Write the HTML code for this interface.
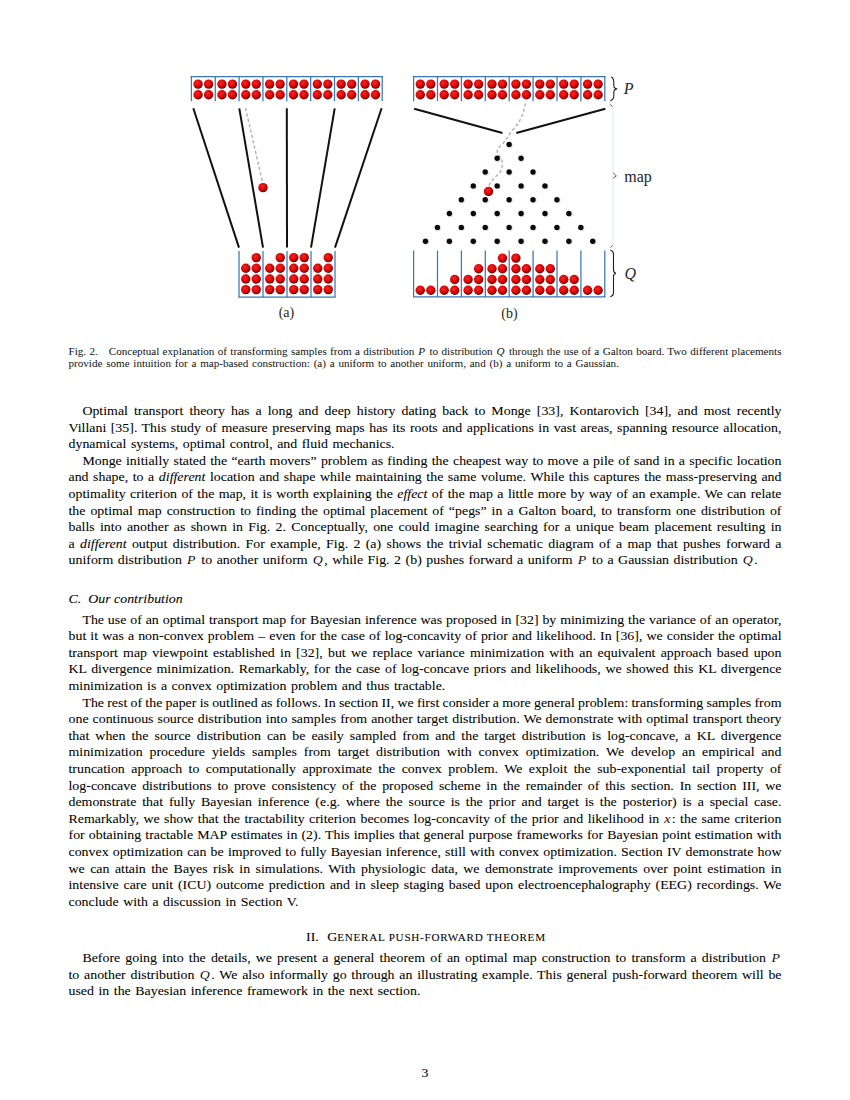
<!DOCTYPE html>
<html><head><meta charset="utf-8"><style>
html,body{margin:0;padding:0;background:#fff;}
body{width:850px;height:1100px;position:relative;overflow:hidden;font-family:"Liberation Serif",serif;color:#000;-webkit-text-stroke:0.08px #222;}
.l{position:absolute;white-space:nowrap;}
.b{font-size:13.9px;line-height:16.6px;transform:scaleY(0.94);transform-origin:0 12px;}
.c{font-size:11.1px;line-height:12.3px;-webkit-text-stroke:0;color:#111;}
.fig{position:absolute;left:0;top:0;}
.m{margin:0 1.4px 0 0.6px;-webkit-text-stroke:0;color:#111;}
.c .m{margin:0 1.1px 0 0.5px;}
</style></head><body>

<svg class="fig" width="850" height="340" viewBox="0 0 850 340">
<defs>
<radialGradient id="bg" cx="0.42" cy="0.38" r="0.62">
<stop offset="0" stop-color="#f42626"/>
<stop offset="0.5" stop-color="#e00b0b"/>
<stop offset="0.74" stop-color="#c00303"/>
<stop offset="0.9" stop-color="#820000"/>
<stop offset="1" stop-color="#440000"/>
</radialGradient>
</defs>
<g stroke="#3a76b8" stroke-width="1.25" fill="none"><line x1="191.40" y1="76.50" x2="191.40" y2="101.20"/><line x1="215.25" y1="76.50" x2="215.25" y2="101.20"/><line x1="239.10" y1="76.50" x2="239.10" y2="101.20"/><line x1="262.95" y1="76.50" x2="262.95" y2="101.20"/><line x1="286.80" y1="76.50" x2="286.80" y2="101.20"/><line x1="310.65" y1="76.50" x2="310.65" y2="101.20"/><line x1="334.50" y1="76.50" x2="334.50" y2="101.20"/><line x1="358.35" y1="76.50" x2="358.35" y2="101.20"/><line x1="382.20" y1="76.50" x2="382.20" y2="101.20"/><line x1="190.70" y1="76.50" x2="382.90" y2="76.50"/></g>
<circle cx="198.08" cy="84.10" r="4.70" fill="url(#bg)"/><circle cx="208.58" cy="84.10" r="4.70" fill="url(#bg)"/><circle cx="198.08" cy="94.80" r="4.70" fill="url(#bg)"/><circle cx="208.58" cy="94.80" r="4.70" fill="url(#bg)"/><circle cx="221.93" cy="84.10" r="4.70" fill="url(#bg)"/><circle cx="232.43" cy="84.10" r="4.70" fill="url(#bg)"/><circle cx="221.93" cy="94.80" r="4.70" fill="url(#bg)"/><circle cx="232.43" cy="94.80" r="4.70" fill="url(#bg)"/><circle cx="245.78" cy="84.10" r="4.70" fill="url(#bg)"/><circle cx="256.28" cy="84.10" r="4.70" fill="url(#bg)"/><circle cx="245.78" cy="94.80" r="4.70" fill="url(#bg)"/><circle cx="256.28" cy="94.80" r="4.70" fill="url(#bg)"/><circle cx="269.63" cy="84.10" r="4.70" fill="url(#bg)"/><circle cx="280.13" cy="84.10" r="4.70" fill="url(#bg)"/><circle cx="269.63" cy="94.80" r="4.70" fill="url(#bg)"/><circle cx="280.13" cy="94.80" r="4.70" fill="url(#bg)"/><circle cx="293.48" cy="84.10" r="4.70" fill="url(#bg)"/><circle cx="303.98" cy="84.10" r="4.70" fill="url(#bg)"/><circle cx="293.48" cy="94.80" r="4.70" fill="url(#bg)"/><circle cx="303.98" cy="94.80" r="4.70" fill="url(#bg)"/><circle cx="317.32" cy="84.10" r="4.70" fill="url(#bg)"/><circle cx="327.82" cy="84.10" r="4.70" fill="url(#bg)"/><circle cx="317.32" cy="94.80" r="4.70" fill="url(#bg)"/><circle cx="327.82" cy="94.80" r="4.70" fill="url(#bg)"/><circle cx="341.18" cy="84.10" r="4.70" fill="url(#bg)"/><circle cx="351.68" cy="84.10" r="4.70" fill="url(#bg)"/><circle cx="341.18" cy="94.80" r="4.70" fill="url(#bg)"/><circle cx="351.68" cy="94.80" r="4.70" fill="url(#bg)"/><circle cx="365.03" cy="84.10" r="4.70" fill="url(#bg)"/><circle cx="375.53" cy="84.10" r="4.70" fill="url(#bg)"/><circle cx="365.03" cy="94.80" r="4.70" fill="url(#bg)"/><circle cx="375.53" cy="94.80" r="4.70" fill="url(#bg)"/>
<g stroke="#111" stroke-width="2" stroke-linecap="butt">
<line x1="193.30" y1="108.3" x2="239.00" y2="247.6"/>
<line x1="239.30" y1="108.3" x2="263.00" y2="247.6"/>
<line x1="286.80" y1="108.3" x2="287.00" y2="247.6"/>
<line x1="334.70" y1="108.3" x2="311.00" y2="247.6"/>
<line x1="381.60" y1="108.3" x2="335.00" y2="247.6"/>
</g>
<line x1="245.5" y1="108" x2="262.5" y2="182" stroke="#b0b0b0" stroke-width="1.4" stroke-dasharray="3.2 2.3"/>
<circle cx="263.00" cy="187.60" r="4.70" fill="url(#bg)"/>
<g stroke="#3a76b8" stroke-width="1.25" fill="none"><line x1="239.00" y1="251.00" x2="239.00" y2="297.00"/><line x1="263.00" y1="251.00" x2="263.00" y2="297.00"/><line x1="287.00" y1="251.00" x2="287.00" y2="297.00"/><line x1="311.00" y1="251.00" x2="311.00" y2="297.00"/><line x1="335.00" y1="251.00" x2="335.00" y2="297.00"/><line x1="238.30" y1="297.00" x2="335.70" y2="297.00"/></g>
<circle cx="245.75" cy="289.60" r="4.70" fill="url(#bg)"/><circle cx="245.75" cy="279.00" r="4.70" fill="url(#bg)"/><circle cx="245.75" cy="268.30" r="4.70" fill="url(#bg)"/><circle cx="256.25" cy="289.60" r="4.70" fill="url(#bg)"/><circle cx="256.25" cy="279.00" r="4.70" fill="url(#bg)"/><circle cx="256.25" cy="268.30" r="4.70" fill="url(#bg)"/><circle cx="256.25" cy="257.60" r="4.70" fill="url(#bg)"/><circle cx="269.75" cy="289.60" r="4.70" fill="url(#bg)"/><circle cx="269.75" cy="279.00" r="4.70" fill="url(#bg)"/><circle cx="269.75" cy="268.30" r="4.70" fill="url(#bg)"/><circle cx="280.25" cy="289.60" r="4.70" fill="url(#bg)"/><circle cx="280.25" cy="279.00" r="4.70" fill="url(#bg)"/><circle cx="280.25" cy="268.30" r="4.70" fill="url(#bg)"/><circle cx="280.25" cy="257.60" r="4.70" fill="url(#bg)"/><circle cx="293.75" cy="289.60" r="4.70" fill="url(#bg)"/><circle cx="293.75" cy="279.00" r="4.70" fill="url(#bg)"/><circle cx="293.75" cy="268.30" r="4.70" fill="url(#bg)"/><circle cx="293.75" cy="257.60" r="4.70" fill="url(#bg)"/><circle cx="304.25" cy="289.60" r="4.70" fill="url(#bg)"/><circle cx="304.25" cy="279.00" r="4.70" fill="url(#bg)"/><circle cx="304.25" cy="268.30" r="4.70" fill="url(#bg)"/><circle cx="304.25" cy="257.60" r="4.70" fill="url(#bg)"/><circle cx="317.75" cy="289.60" r="4.70" fill="url(#bg)"/><circle cx="317.75" cy="279.00" r="4.70" fill="url(#bg)"/><circle cx="317.75" cy="268.30" r="4.70" fill="url(#bg)"/><circle cx="328.25" cy="289.60" r="4.70" fill="url(#bg)"/><circle cx="328.25" cy="279.00" r="4.70" fill="url(#bg)"/><circle cx="328.25" cy="268.30" r="4.70" fill="url(#bg)"/><circle cx="328.25" cy="257.60" r="4.70" fill="url(#bg)"/>
<g stroke="#3a76b8" stroke-width="1.25" fill="none"><line x1="413.60" y1="76.50" x2="413.60" y2="101.20"/><line x1="437.50" y1="76.50" x2="437.50" y2="101.20"/><line x1="461.40" y1="76.50" x2="461.40" y2="101.20"/><line x1="485.30" y1="76.50" x2="485.30" y2="101.20"/><line x1="509.20" y1="76.50" x2="509.20" y2="101.20"/><line x1="533.10" y1="76.50" x2="533.10" y2="101.20"/><line x1="557.00" y1="76.50" x2="557.00" y2="101.20"/><line x1="580.90" y1="76.50" x2="580.90" y2="101.20"/><line x1="604.80" y1="76.50" x2="604.80" y2="101.20"/><line x1="412.90" y1="76.50" x2="605.50" y2="76.50"/></g>
<circle cx="420.30" cy="84.10" r="4.70" fill="url(#bg)"/><circle cx="430.80" cy="84.10" r="4.70" fill="url(#bg)"/><circle cx="420.30" cy="94.80" r="4.70" fill="url(#bg)"/><circle cx="430.80" cy="94.80" r="4.70" fill="url(#bg)"/><circle cx="444.20" cy="84.10" r="4.70" fill="url(#bg)"/><circle cx="454.70" cy="84.10" r="4.70" fill="url(#bg)"/><circle cx="444.20" cy="94.80" r="4.70" fill="url(#bg)"/><circle cx="454.70" cy="94.80" r="4.70" fill="url(#bg)"/><circle cx="468.10" cy="84.10" r="4.70" fill="url(#bg)"/><circle cx="478.60" cy="84.10" r="4.70" fill="url(#bg)"/><circle cx="468.10" cy="94.80" r="4.70" fill="url(#bg)"/><circle cx="478.60" cy="94.80" r="4.70" fill="url(#bg)"/><circle cx="492.00" cy="84.10" r="4.70" fill="url(#bg)"/><circle cx="502.50" cy="84.10" r="4.70" fill="url(#bg)"/><circle cx="492.00" cy="94.80" r="4.70" fill="url(#bg)"/><circle cx="502.50" cy="94.80" r="4.70" fill="url(#bg)"/><circle cx="515.90" cy="84.10" r="4.70" fill="url(#bg)"/><circle cx="526.40" cy="84.10" r="4.70" fill="url(#bg)"/><circle cx="515.90" cy="94.80" r="4.70" fill="url(#bg)"/><circle cx="526.40" cy="94.80" r="4.70" fill="url(#bg)"/><circle cx="539.80" cy="84.10" r="4.70" fill="url(#bg)"/><circle cx="550.30" cy="84.10" r="4.70" fill="url(#bg)"/><circle cx="539.80" cy="94.80" r="4.70" fill="url(#bg)"/><circle cx="550.30" cy="94.80" r="4.70" fill="url(#bg)"/><circle cx="563.70" cy="84.10" r="4.70" fill="url(#bg)"/><circle cx="574.20" cy="84.10" r="4.70" fill="url(#bg)"/><circle cx="563.70" cy="94.80" r="4.70" fill="url(#bg)"/><circle cx="574.20" cy="94.80" r="4.70" fill="url(#bg)"/><circle cx="587.60" cy="84.10" r="4.70" fill="url(#bg)"/><circle cx="598.10" cy="84.10" r="4.70" fill="url(#bg)"/><circle cx="587.60" cy="94.80" r="4.70" fill="url(#bg)"/><circle cx="598.10" cy="94.80" r="4.70" fill="url(#bg)"/>
<g stroke="#111" stroke-width="2"><line x1="414.2" y1="108.7" x2="502.5" y2="133"/><line x1="516.3" y1="133" x2="605.4" y2="108.7"/></g>
<path d="M525.4,103.3 C524,112 521,121 514,128.5 C509,134 507,139 502,144.5 C498,148 495.5,151 498.5,155 C503,159 503.5,165 500.5,171.5 C497,176 491,180 489,185.5" fill="none" stroke="#b0b0b0" stroke-width="1.4" stroke-dasharray="3.2 2.3"/>
<g fill="#c8c8c8" opacity="0.6"><circle cx="509.90" cy="145.20" r="2.9"/><circle cx="497.95" cy="159.03" r="2.9"/><circle cx="521.85" cy="159.03" r="2.9"/><circle cx="486.00" cy="172.86" r="2.9"/><circle cx="509.90" cy="172.86" r="2.9"/><circle cx="533.80" cy="172.86" r="2.9"/><circle cx="474.05" cy="186.69" r="2.9"/><circle cx="497.95" cy="186.69" r="2.9"/><circle cx="521.85" cy="186.69" r="2.9"/><circle cx="545.75" cy="186.69" r="2.9"/><circle cx="462.10" cy="200.52" r="2.9"/><circle cx="486.00" cy="200.52" r="2.9"/><circle cx="509.90" cy="200.52" r="2.9"/><circle cx="533.80" cy="200.52" r="2.9"/><circle cx="557.70" cy="200.52" r="2.9"/><circle cx="450.15" cy="214.35" r="2.9"/><circle cx="474.05" cy="214.35" r="2.9"/><circle cx="497.95" cy="214.35" r="2.9"/><circle cx="521.85" cy="214.35" r="2.9"/><circle cx="545.75" cy="214.35" r="2.9"/><circle cx="569.65" cy="214.35" r="2.9"/><circle cx="438.20" cy="228.18" r="2.9"/><circle cx="462.10" cy="228.18" r="2.9"/><circle cx="486.00" cy="228.18" r="2.9"/><circle cx="509.90" cy="228.18" r="2.9"/><circle cx="533.80" cy="228.18" r="2.9"/><circle cx="557.70" cy="228.18" r="2.9"/><circle cx="581.60" cy="228.18" r="2.9"/><circle cx="426.25" cy="242.01" r="2.9"/><circle cx="450.15" cy="242.01" r="2.9"/><circle cx="474.05" cy="242.01" r="2.9"/><circle cx="497.95" cy="242.01" r="2.9"/><circle cx="521.85" cy="242.01" r="2.9"/><circle cx="545.75" cy="242.01" r="2.9"/><circle cx="569.65" cy="242.01" r="2.9"/><circle cx="593.55" cy="242.01" r="2.9"/></g>
<g fill="#0a0a0a"><circle cx="509.10" cy="144.40" r="2.7"/><circle cx="497.15" cy="158.23" r="2.7"/><circle cx="521.05" cy="158.23" r="2.7"/><circle cx="485.20" cy="172.06" r="2.7"/><circle cx="509.10" cy="172.06" r="2.7"/><circle cx="533.00" cy="172.06" r="2.7"/><circle cx="473.25" cy="185.89" r="2.7"/><circle cx="497.15" cy="185.89" r="2.7"/><circle cx="521.05" cy="185.89" r="2.7"/><circle cx="544.95" cy="185.89" r="2.7"/><circle cx="461.30" cy="199.72" r="2.7"/><circle cx="485.20" cy="199.72" r="2.7"/><circle cx="509.10" cy="199.72" r="2.7"/><circle cx="533.00" cy="199.72" r="2.7"/><circle cx="556.90" cy="199.72" r="2.7"/><circle cx="449.35" cy="213.55" r="2.7"/><circle cx="473.25" cy="213.55" r="2.7"/><circle cx="497.15" cy="213.55" r="2.7"/><circle cx="521.05" cy="213.55" r="2.7"/><circle cx="544.95" cy="213.55" r="2.7"/><circle cx="568.85" cy="213.55" r="2.7"/><circle cx="437.40" cy="227.38" r="2.7"/><circle cx="461.30" cy="227.38" r="2.7"/><circle cx="485.20" cy="227.38" r="2.7"/><circle cx="509.10" cy="227.38" r="2.7"/><circle cx="533.00" cy="227.38" r="2.7"/><circle cx="556.90" cy="227.38" r="2.7"/><circle cx="580.80" cy="227.38" r="2.7"/><circle cx="425.45" cy="241.21" r="2.7"/><circle cx="449.35" cy="241.21" r="2.7"/><circle cx="473.25" cy="241.21" r="2.7"/><circle cx="497.15" cy="241.21" r="2.7"/><circle cx="521.05" cy="241.21" r="2.7"/><circle cx="544.95" cy="241.21" r="2.7"/><circle cx="568.85" cy="241.21" r="2.7"/><circle cx="592.75" cy="241.21" r="2.7"/></g>
<circle cx="488.50" cy="191.40" r="4.70" fill="url(#bg)"/>
<g stroke="#3a76b8" stroke-width="1.25" fill="none"><line x1="413.60" y1="250.50" x2="413.60" y2="296.90"/><line x1="437.50" y1="250.50" x2="437.50" y2="296.90"/><line x1="461.40" y1="250.50" x2="461.40" y2="296.90"/><line x1="485.30" y1="250.50" x2="485.30" y2="296.90"/><line x1="509.20" y1="250.50" x2="509.20" y2="296.90"/><line x1="533.10" y1="250.50" x2="533.10" y2="296.90"/><line x1="557.00" y1="250.50" x2="557.00" y2="296.90"/><line x1="580.90" y1="250.50" x2="580.90" y2="296.90"/><line x1="604.80" y1="250.50" x2="604.80" y2="296.90"/><line x1="412.90" y1="296.90" x2="605.50" y2="296.90"/></g>
<circle cx="420.30" cy="290.20" r="4.70" fill="url(#bg)"/><circle cx="430.80" cy="290.20" r="4.70" fill="url(#bg)"/><circle cx="444.20" cy="290.20" r="4.70" fill="url(#bg)"/><circle cx="454.70" cy="290.20" r="4.70" fill="url(#bg)"/><circle cx="454.70" cy="279.50" r="4.70" fill="url(#bg)"/><circle cx="468.10" cy="290.20" r="4.70" fill="url(#bg)"/><circle cx="468.10" cy="279.50" r="4.70" fill="url(#bg)"/><circle cx="478.60" cy="290.20" r="4.70" fill="url(#bg)"/><circle cx="478.60" cy="279.50" r="4.70" fill="url(#bg)"/><circle cx="478.60" cy="268.70" r="4.70" fill="url(#bg)"/><circle cx="492.00" cy="290.20" r="4.70" fill="url(#bg)"/><circle cx="492.00" cy="279.50" r="4.70" fill="url(#bg)"/><circle cx="492.00" cy="268.70" r="4.70" fill="url(#bg)"/><circle cx="502.50" cy="290.20" r="4.70" fill="url(#bg)"/><circle cx="502.50" cy="279.50" r="4.70" fill="url(#bg)"/><circle cx="502.50" cy="268.70" r="4.70" fill="url(#bg)"/><circle cx="502.50" cy="258.10" r="4.70" fill="url(#bg)"/><circle cx="515.90" cy="290.20" r="4.70" fill="url(#bg)"/><circle cx="515.90" cy="279.50" r="4.70" fill="url(#bg)"/><circle cx="515.90" cy="268.70" r="4.70" fill="url(#bg)"/><circle cx="515.90" cy="258.10" r="4.70" fill="url(#bg)"/><circle cx="526.40" cy="290.20" r="4.70" fill="url(#bg)"/><circle cx="526.40" cy="279.50" r="4.70" fill="url(#bg)"/><circle cx="526.40" cy="268.70" r="4.70" fill="url(#bg)"/><circle cx="539.80" cy="290.20" r="4.70" fill="url(#bg)"/><circle cx="539.80" cy="279.50" r="4.70" fill="url(#bg)"/><circle cx="539.80" cy="268.70" r="4.70" fill="url(#bg)"/><circle cx="550.30" cy="290.20" r="4.70" fill="url(#bg)"/><circle cx="550.30" cy="279.50" r="4.70" fill="url(#bg)"/><circle cx="550.30" cy="268.70" r="4.70" fill="url(#bg)"/><circle cx="563.70" cy="290.20" r="4.70" fill="url(#bg)"/><circle cx="563.70" cy="279.50" r="4.70" fill="url(#bg)"/><circle cx="574.20" cy="290.20" r="4.70" fill="url(#bg)"/><circle cx="574.20" cy="279.50" r="4.70" fill="url(#bg)"/><circle cx="587.60" cy="290.20" r="4.70" fill="url(#bg)"/><circle cx="598.10" cy="290.20" r="4.70" fill="url(#bg)"/>
<g fill="none" stroke="#222" stroke-width="1.1">
<path d="M611.2,77.1 C613.5,78 613.8,80 613.8,82.5 L613.8,85.5 C613.8,87.5 615,88.6 617.1,88.9 C615,89.2 613.8,90.3 613.8,92.3 L613.8,96 C613.8,98.5 613.2,99.8 610.3,100.6"/>
<path d="M610.3,250 C612.8,250.8 613.5,251.8 613.5,254 L613.5,270 C613.5,272 614.5,273 616,273.2 C614.5,273.4 613.5,274.4 613.5,276.4 L613.5,293 C613.5,295 612.8,296 610.3,296.8"/>
</g>
<line x1="612.9" y1="106.5" x2="612.9" y2="245.5" stroke="#dfe7e7" stroke-width="1"/>
<g fill="none" stroke="#444" stroke-width="0.9"><path d="M609.8,104.2 L612.6,106.6"/><path d="M613.3,173 L616.3,175.8 L613.3,178.2"/><path d="M610.3,247.6 L612.6,245.3"/></g>
<g font-family="Liberation Serif" fill="#262626" style="-webkit-text-stroke:0">
<text x="623.8" y="94.4" font-size="16" font-style="italic">P</text>
<text x="624.3" y="182" font-size="16">map</text>
<text x="624.6" y="278.8" font-size="16" font-style="italic">Q</text>
<text x="286.4" y="317.3" font-size="14" text-anchor="middle" style="-webkit-text-stroke:0.45px #111">(a)</text>
<text x="509.5" y="317.6" font-size="14" text-anchor="middle">(b)</text>
</g>
</svg>
<div class="l c" style="left:68.5px;top:345.10px;word-spacing:0.572px"><span>Fig. 2.<span style="display:inline-block;width:11px"></span>Conceptual explanation of transforming samples from a distribution <i class="m">P</i> to distribution <i class="m">Q</i> through the use of a Galton board. Two different placements</span></div>
<div class="l c" style="left:68.5px;top:357.40px;word-spacing:1.00px"><span>provide some intuition for a map-based construction: (a) a uniform to another uniform, and (b) a uniform to a Gaussian.</span></div>
<div class="l b" style="left:82.4px;top:402.91px;word-spacing:2.578px"><span>Optimal transport theory has a long and deep history dating back to Monge [33], Kontarovich [34], and most recently</span></div>
<div class="l b" style="left:68.5px;top:419.51px;word-spacing:1.031px"><span>Villani [35]. This study of measure preserving maps has its roots and applications in vast areas, spanning resource allocation,</span></div>
<div class="l b" style="left:68.5px;top:436.11px;word-spacing:1.05px"><span>dynamical systems, optimal control, and fluid mechanics.</span></div>
<div class="l b" style="left:82.4px;top:452.71px;word-spacing:0.797px"><span>Monge initially stated the &ldquo;earth movers&rdquo; problem as finding the cheapest way to move a pile of sand in a specific location</span></div>
<div class="l b" style="left:68.5px;top:469.31px;word-spacing:1.077px"><span>and shape, to a <i>different</i> location and shape while maintaining the same volume. While this captures the mass-preserving and</span></div>
<div class="l b" style="left:68.5px;top:485.91px;word-spacing:0.900px"><span>optimality criterion of the map, it is worth explaining the <i>effect</i> of the map a little more by way of an example. We can relate</span></div>
<div class="l b" style="left:68.5px;top:502.51px;word-spacing:1.467px"><span>the optimal map construction to finding the optimal placement of &ldquo;pegs&rdquo; in a Galton board, to transform one distribution of</span></div>
<div class="l b" style="left:68.5px;top:519.11px;word-spacing:1.799px"><span>balls into another as shown in Fig. 2. Conceptually, one could imagine searching for a unique beam placement resulting in</span></div>
<div class="l b" style="left:68.5px;top:535.71px;word-spacing:1.863px"><span>a <i>different</i> output distribution. For example, Fig. 2 (a) shows the trivial schematic diagram of a map that pushes forward a</span></div>
<div class="l b" style="left:68.5px;top:552.31px;word-spacing:1.05px"><span>uniform distribution <i class="m">P</i> to another uniform <i class="m">Q</i>, while Fig. 2 (b) pushes forward a uniform <i class="m">P</i> to a Gaussian distribution <i class="m">Q</i>.</span></div>
<div class="l b" style="left:82.4px;top:611.61px;word-spacing:0.403px"><span>The use of an optimal transport map for Bayesian inference was proposed in [32] by minimizing the variance of an operator,</span></div>
<div class="l b" style="left:68.5px;top:628.21px;word-spacing:0.638px"><span>but it was a non-convex problem &ndash; even for the case of log-concavity of prior and likelihood. In [36], we consider the optimal</span></div>
<div class="l b" style="left:68.5px;top:644.81px;word-spacing:1.771px"><span>transport map viewpoint established in [32], but we replace variance minimization with an equivalent approach based upon</span></div>
<div class="l b" style="left:68.5px;top:661.41px;word-spacing:1.199px"><span>KL divergence minimization. Remarkably, for the case of log-concave priors and likelihoods, we showed this KL divergence</span></div>
<div class="l b" style="left:68.5px;top:678.01px;word-spacing:1.05px"><span>minimization is a convex optimization problem and thus tractable.</span></div>
<div class="l b" style="left:82.4px;top:694.61px;word-spacing:-0.233px"><span>The rest of the paper is outlined as follows. In section II, we first consider a more general problem: transforming samples from</span></div>
<div class="l b" style="left:68.5px;top:711.21px;word-spacing:0.525px"><span>one continuous source distribution into samples from another target distribution. We demonstrate with optimal transport theory</span></div>
<div class="l b" style="left:68.5px;top:727.81px;word-spacing:2.573px"><span>that when the source distribution can be easily sampled from and the target distribution is log-concave, a KL divergence</span></div>
<div class="l b" style="left:68.5px;top:744.41px;word-spacing:3.459px"><span>minimization procedure yields samples from target distribution with convex optimization. We develop an empirical and</span></div>
<div class="l b" style="left:68.5px;top:761.01px;word-spacing:2.946px"><span>truncation approach to computationally approximate the convex problem. We exploit the sub-exponential tail property of</span></div>
<div class="l b" style="left:68.5px;top:777.61px;word-spacing:2.322px"><span>log-concave distributions to prove consistency of the proposed scheme in the remainder of this section. In section III, we</span></div>
<div class="l b" style="left:68.5px;top:794.21px;word-spacing:2.395px"><span>demonstrate that fully Bayesian inference (e.g. where the source is the prior and target is the posterior) is a special case.</span></div>
<div class="l b" style="left:68.5px;top:810.81px;word-spacing:0.956px"><span>Remarkably, we show that the tractability criterion becomes log-concavity of the prior and likelihood in <i class="m">x</i>: the same criterion</span></div>
<div class="l b" style="left:68.5px;top:827.41px;word-spacing:0.596px"><span>for obtaining tractable MAP estimates in (2). This implies that general purpose frameworks for Bayesian point estimation with</span></div>
<div class="l b" style="left:68.5px;top:844.01px;word-spacing:0.698px"><span>convex optimization can be improved to fully Bayesian inference, still with convex optimization. Section IV demonstrate how</span></div>
<div class="l b" style="left:68.5px;top:860.61px;word-spacing:1.982px"><span>we can attain the Bayes risk in simulations. With physiologic data, we demonstrate improvements over point estimation in</span></div>
<div class="l b" style="left:68.5px;top:877.21px;word-spacing:1.390px"><span>intensive care unit (ICU) outcome prediction and in sleep staging based upon electroencephalography (EEG) recordings. We</span></div>
<div class="l b" style="left:68.5px;top:893.81px;word-spacing:1.05px"><span>conclude with a discussion in Section V.</span></div>
<div class="l b" style="left:82.4px;top:950.01px;word-spacing:1.648px"><span>Before going into the details, we present a general theorem of an optimal map construction to transform a distribution <i class="m">P</i></span></div>
<div class="l b" style="left:68.5px;top:966.61px;word-spacing:1.277px"><span>to another distribution <i class="m">Q</i>. We also informally go through an illustrating example. This general push-forward theorem will be</span></div>
<div class="l b" style="left:68.5px;top:983.21px;word-spacing:1.05px"><span>used in the Bayesian inference framework in the next section.</span></div>
<div class="l b" style="left:68.5px;top:590.91px"><i>C.&nbsp;&nbsp;Our contribution</i></div>
<div class="l b" style="left:306.1px;top:929.31px">II.<span style="display:inline-block;width:8.4px"></span>G<span style="font-size:11.12px;letter-spacing:0.75px;word-spacing:0px">ENERAL PUSH-FORWARD THEOREM</span></div>
<div class="l b" style="left:0;width:850px;text-align:center;top:1065.31px">3</div>
</body></html>
